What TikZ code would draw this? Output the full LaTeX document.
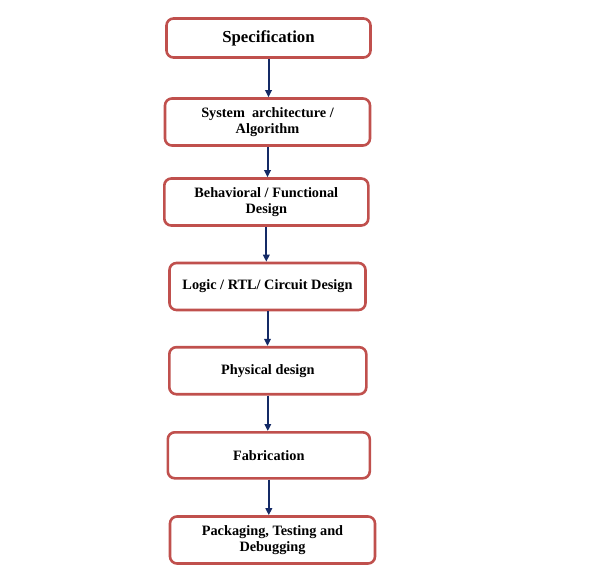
\documentclass[tikz,border=0pt]{standalone}
\usepackage{fontspec}
\setmainfont{Liberation Serif}
\usepackage{tikz}
\usetikzlibrary{arrows.meta}
\definecolor{stagered}{RGB}{192,80,77}
\definecolor{flowblue}{RGB}{20,42,102}

\begin{document}
\begin{tikzpicture}[x=1pt,y=-1pt,
    stage/.style={draw=stagered,line width=2.6pt,rounded corners=7pt,fill=white,align=center,inner sep=0pt,
      font=\bfseries\fontsize{14.3}{16}\selectfont},
    flow/.style={draw=flowblue,line width=2pt,-{Triangle[length=7pt,width=6.5pt]}}]

    \useasboundingbox (0,0) rectangle (609,580);

    \node[stage,minimum width=204pt,minimum height=39pt,font=\bfseries\fontsize{16.8}{19}\selectfont] (spec) at (268.5, 38) {Specification};
    \node[stage,minimum width=205pt,minimum height=47pt] (arch) at (267.5, 122) {System\ \ architecture /\\Algorithm};
    \node[stage,minimum width=204pt,minimum height=47pt] (behav) at (266.3, 202) {Behavioral / Functional\\Design};
    \node[stage,minimum width=196pt,minimum height=47pt] (logic) at (267.5, 286.5) {Logic / RTL/ Circuit Design};
    \node[stage,minimum width=197pt,minimum height=47pt] (phys) at (267.8, 370.7) {Physical design};
    \node[stage,minimum width=202pt,minimum height=46pt] (fab) at (268.8, 455.3) {Fabrication};
    \node[stage,minimum width=205pt,minimum height=47pt] (pack) at (272.5, 540) {Packaging, Testing and\\Debugging};


    \draw (spec.south) edge[flow] (spec.south |- arch.north);
    \draw (arch.south) edge[flow] (arch.south |- behav.north);
    \draw (behav.south) edge[flow] (behav.south |- logic.north);
    \draw (logic.south) edge[flow] (logic.south |- phys.north);
    \draw (phys.south) edge[flow] (phys.south |- fab.north);
    \draw (fab.south) edge[flow] (fab.south |- pack.north);
  \end{tikzpicture}
\end{document}
